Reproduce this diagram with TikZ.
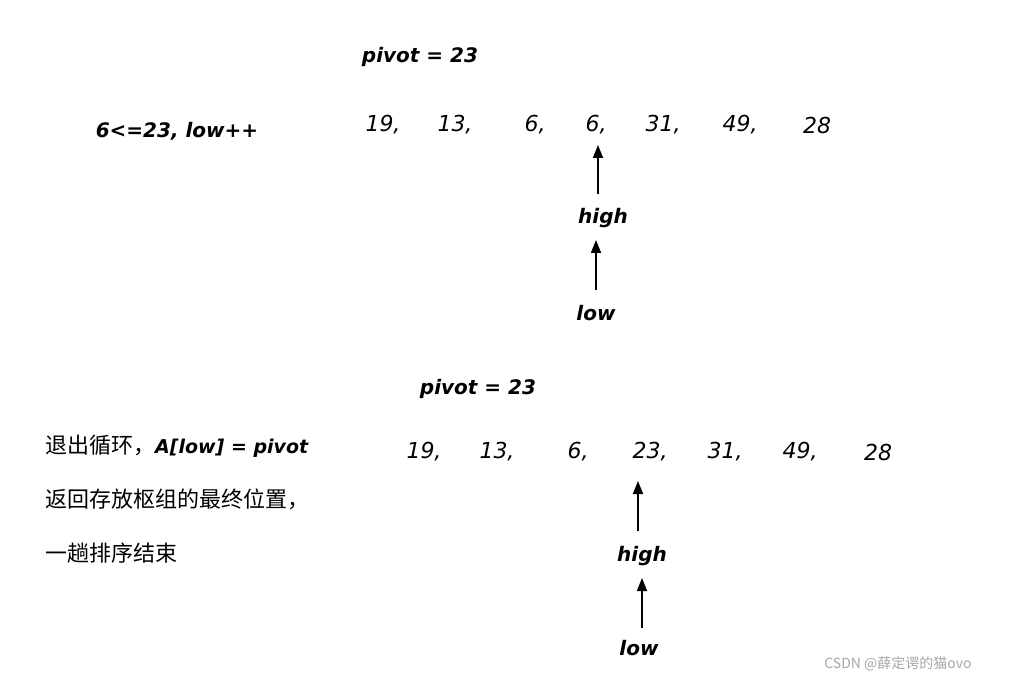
\documentclass[tikz,border=0pt]{standalone}
\usepackage{fontspec}
\setmainfont{DejaVu Sans}
\newfontfamily\cjk{Noto Sans CJK SC}
\usetikzlibrary{arrows.meta}
\begin{document}
\begin{tikzpicture}[x=1pt,y=-1pt,
  lab/.style={font=\fontsize{20}{22}\selectfont\bfseries\itshape,inner sep=1pt},
  num/.style={font=\fontsize{22}{24}\selectfont\itshape,inner sep=1pt},
  zh/.style={font=\fontsize{22}{24}\selectfont\cjk,anchor=west,inner sep=0pt},
  arr/.style={-{Triangle[length=13pt,width=10pt]},line width=1.8pt}]
\useasboundingbox (0,0) rectangle (1016,684);
% top
\node[lab] (p1) at (420,57) {pivot = 23};
\node[lab] (c1) at (177,131) {6<=23, low++};
\foreach \x/\t/\n in {383/{19,}/a1, 455/{13,}/a2, 535/{6,}/a3, 596/{6,}/a4, 663/{31,}/a5, 740/{49,}/a6, 817/{28}/a7}
  \node[num] (\n) at (\x,125) {\t};
\node[lab] (h1) at (603,218) {high};
\node[lab] (l1) at (596,313) {low};
\coordinate (h1s) at (598,194); \coordinate (h1e) at (598,145);
\coordinate (l1s) at (596,290); \coordinate (l1e) at (596,240);
\draw[arr] (h1s) -- (h1e);
\draw[arr] (l1s) -- (l1e);
% bottom
\node[lab] (p2) at (478,389) {pivot = 23};
\foreach \x/\t/\n in {424/{19,}/b1, 497/{13,}/b2, 578/{6,}/b3, 650/{23,}/b4, 725/{31,}/b5, 800/{49,}/b6, 878/{28}/b7}
  \node[num] (\n) at (\x,452) {\t};
\node[lab] (h2) at (642,556) {high};
\node[lab] (l2) at (639,648) {low};
\coordinate (h2s) at (638,531); \coordinate (h2e) at (638,481);
\coordinate (l2s) at (642,628); \coordinate (l2e) at (642,578);
\draw[arr] (h2s) -- (h2e);
\draw[arr] (l2s) -- (l2e);
\node[zh] (z1) at (45,446) {退出循环，{\fontsize{19}{21}\selectfont\rmfamily\bfseries\itshape A[low] = pivot}};
\node[zh] (z2) at (45,499) {返回存放枢组的最终位置，};
\node[zh] (z3) at (45,553) {一趟排序结束};
\node[font=\fontsize{14}{16}\selectfont\cjk,text=gray!70] (w) at (898,664) {CSDN @薛定谔的猫ovo};
\end{tikzpicture}
\end{document}
